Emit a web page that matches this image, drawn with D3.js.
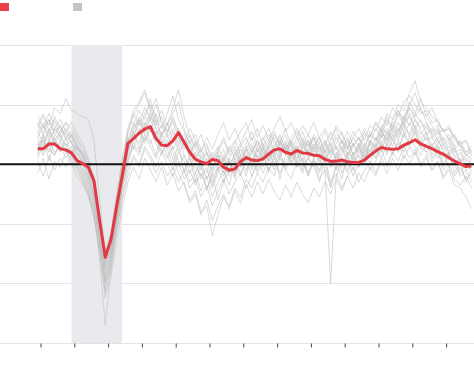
<!DOCTYPE html>
<html>
<head>
<meta charset="utf-8">
<script src="https://cdn.jsdelivr.net/npm/d3@7"></script>
<style>
  html, body { margin: 0; padding: 0; background: #fff; }
  svg { display: block; }
</style>
</head>
<body>
<svg id="chart" width="474" height="369"></svg>
<script>
// ---- DATA ----
const startYear = 2006 + 11/12;   // Dec 2006
const stepYears = 2/12;           // bimonthly samples
const recession = [2007 + 11/12, 2009 + 5/12];
const yTicks = [2, 1, 0, -1, -2, -3];
const xTickYears = [2007,2008,2009,2010,2011,2012,2013,2014,2015,2016,2017,2018,2019];

const mainSeries = [0.26,0.26,0.34,0.34,0.26,0.24,0.19,0.06,0.01,-0.05,
  -0.28,-0.95,-1.56,-1.27,-0.72,-0.2,0.35,0.43,0.52,0.59,
  0.63,0.43,0.32,0.31,0.39,0.53,0.37,0.2,0.08,0.04,
  0.01,0.08,0.06,-0.05,-0.10,-0.08,0.04,0.11,0.07,0.06,
  0.09,0.17,0.24,0.26,0.20,0.17,0.23,0.19,0.18,0.15,
  0.14,0.08,0.05,0.05,0.07,0.04,0.03,0.03,0.07,0.15,
  0.22,0.28,0.26,0.25,0.26,0.32,0.36,0.41,0.34,0.30,
  0.26,0.21,0.17,0.11,0.05,0.01,-0.04,-0.03];

const g1 = [0.55,0.70,0.45,0.80,0.60,0.50,0.35,0.20,0.05,-0.20,
  -0.55,-1.30,-1.90,-1.55,-0.90,-0.30,0.40,0.65,0.90,0.75,
  1.10,0.70,0.50,0.65,0.85,1.05,0.60,0.30,0.10,0.25,
  0.05,-0.10,0.20,-0.05,0.10,-0.20,0.30,0.45,0.20,0.40,
  0.15,0.35,0.55,0.30,0.50,0.20,0.45,0.25,0.40,0.10,
  0.30,0.05,0.25,0.10,0.40,0.15,0.35,0.20,0.50,0.45,
  0.70,0.55,0.85,0.75,1.00,0.90,1.20,1.40,1.05,0.95,
  0.80,0.70,0.55,0.60,0.40,0.30,0.20,0.25];
const g2 = [0.30,0.45,0.20,0.50,0.40,0.55,0.45,0.30,0.20,-0.10,
  -0.40,-1.10,-1.75,-1.40,-0.80,-0.25,0.20,0.50,0.35,0.70,
  0.55,0.85,0.40,0.30,0.55,0.20,0.35,0.10,-0.15,0.05,
  -0.25,-0.05,0.15,-0.20,0.05,-0.15,0.10,0.25,-0.05,0.20,
  0.35,0.10,0.30,0.45,0.15,0.35,0.05,0.30,0.20,0.45,
  0.15,0.35,0.10,0.30,-0.05,0.20,0.10,0.35,0.25,0.55,
  0.40,0.60,0.35,0.65,0.50,0.80,0.95,0.75,0.60,0.70,
  0.50,0.35,0.45,0.20,0.30,0.05,0.15,0.10];
const g3 = [0.10,0.35,0.25,0.15,0.40,0.20,0.30,0.10,-0.15,-0.40,
  -0.80,-1.60,-2.70,-1.80,-1.00,-0.45,0.05,0.30,0.15,0.45,
  0.30,0.10,0.40,0.15,-0.10,0.20,0.05,-0.30,-0.15,-0.45,
  -0.20,-0.55,-0.30,-0.10,-0.35,0.05,-0.20,0.10,-0.10,0.15,
  -0.05,0.20,0.00,0.25,-0.10,0.15,0.30,0.05,-0.15,0.10,
  -0.10,0.15,-0.05,0.20,-0.15,0.10,-0.20,0.05,0.20,0.00,
  0.30,0.10,0.35,0.15,0.40,0.20,0.45,0.30,0.15,0.35,
  0.10,0.25,-0.05,0.15,0.00,-0.20,-0.10,-0.30];
const g4 = [0.60,0.80,0.65,0.95,0.85,1.10,0.90,0.85,0.80,0.75,
  0.40,-0.60,-1.50,-1.20,-0.60,-0.05,0.55,0.80,1.00,1.20,
  0.90,0.65,0.80,0.55,0.70,0.45,0.25,0.40,0.15,0.00,
  0.20,-0.15,0.05,0.25,0.00,0.15,0.35,0.10,0.30,0.05,
  0.25,0.40,0.15,0.35,0.60,0.30,0.10,0.35,0.15,0.30,
  0.45,0.20,0.35,0.05,0.25,0.45,0.15,0.30,0.10,0.35,
  0.25,0.45,0.60,0.40,0.70,0.55,0.85,0.60,0.75,0.50,
  0.60,0.40,0.25,0.35,0.15,0.05,-0.05,0.10];
const g5 = [-0.15,0.10,-0.25,0.05,-0.05,0.20,0.00,-0.20,-0.35,-0.50,
  -0.90,-1.40,-2.00,-1.75,-1.10,-0.60,-0.20,0.10,-0.05,0.25,
  0.10,-0.15,0.05,-0.20,-0.05,-0.30,-0.10,-0.40,-0.25,-0.55,
  -0.35,-0.70,-0.45,-0.25,-0.50,-0.30,-0.15,-0.40,-0.20,0.05,
  -0.15,0.10,-0.10,0.15,-0.05,0.20,0.05,-0.10,0.15,-0.05,
  0.10,-0.10,-2.00,-0.20,0.05,-0.15,0.10,-0.05,0.15,-0.10,
  0.05,0.25,0.00,0.20,0.35,0.10,0.30,0.15,0.40,0.20,
  0.05,0.20,-0.10,0.00,-0.20,-0.05,-0.25,-0.15];
const g6 = [0.45,0.30,0.55,0.35,0.50,0.30,0.40,0.15,0.05,-0.25,
  -0.65,-1.25,-2.10,-1.60,-0.85,-0.15,0.30,0.60,0.75,0.50,
  0.80,0.60,0.35,0.50,0.25,0.45,0.15,-0.05,0.20,-0.10,
  0.10,-0.30,-0.05,0.15,-0.15,0.10,-0.05,0.20,0.35,0.10,
  0.30,0.05,0.25,0.10,0.35,0.00,0.20,0.40,0.15,0.30,
  0.05,0.25,-0.05,0.15,0.30,0.00,0.20,-0.05,0.25,0.10,
  0.35,0.20,0.50,0.30,0.55,0.70,0.45,0.65,0.40,0.55,
  0.30,0.45,0.20,0.30,0.10,0.20,-0.05,0.05];
const g7 = [0.20,0.40,0.30,0.45,0.25,0.35,0.10,0.00,-0.20,-0.45,
  -0.75,-1.35,-1.95,-1.45,-0.75,-0.10,0.45,0.25,0.60,0.40,
  0.65,0.45,0.20,0.35,0.10,-0.15,-0.35,-0.60,-0.45,-0.80,
  -0.70,-1.20,-0.85,-0.55,-0.70,-0.40,-0.55,-0.25,-0.40,-0.15,
  -0.30,-0.05,-0.20,0.10,-0.10,-0.25,0.05,-0.15,0.10,-0.05,
  -0.25,-0.10,-0.35,-0.15,-0.40,-0.20,-0.05,-0.30,-0.10,0.05,
  -0.15,0.10,-0.05,0.20,0.05,0.30,0.10,0.25,0.00,0.15,
  -0.10,0.05,-0.25,-0.10,-0.35,-0.40,-0.55,-0.75];
const g8 = [0.70,0.50,0.75,0.55,0.65,0.45,0.55,0.40,0.30,0.10,
  -0.30,-1.00,-1.65,-1.30,-0.70,-0.20,0.35,0.70,0.50,0.85,
  1.00,0.80,0.60,0.85,1.15,0.75,0.55,0.35,0.50,0.25,
  0.35,0.10,0.30,0.05,0.25,0.40,0.15,0.35,0.55,0.30,
  0.45,0.25,0.50,0.35,0.25,0.45,0.60,0.40,0.30,0.50,
  0.35,0.55,0.30,0.50,0.40,0.25,0.45,0.60,0.40,0.65,
  0.55,0.80,0.65,0.95,0.80,1.05,1.15,1.00,0.85,0.90,
  0.70,0.75,0.55,0.60,0.45,0.35,0.40,0.20];
const g9 = [0.35,0.15,0.40,0.20,0.30,0.10,0.25,0.05,-0.10,-0.30,
  -0.50,-1.20,-1.80,-1.50,-0.95,-0.35,0.10,0.35,0.20,0.50,
  0.35,0.55,0.25,0.10,0.30,0.05,-0.10,0.15,-0.05,-0.20,
  -0.05,-0.40,-0.15,0.05,-0.20,-0.05,0.15,-0.10,0.10,-0.15,
  0.05,0.25,-0.05,0.15,0.30,0.05,0.20,-0.05,0.10,0.25,
  0.00,0.20,0.05,-0.10,0.15,0.30,0.05,0.15,0.35,0.20,
  0.45,0.30,0.55,0.40,0.60,0.45,0.70,0.50,0.35,0.45,
  0.25,0.30,0.10,0.20,0.00,0.10,-0.10,-0.05];
const g10 = [0.50,0.65,0.40,0.60,0.75,0.55,0.70,0.50,0.35,0.05,
  -0.45,-1.15,-1.70,-1.35,-0.65,0.10,0.60,0.90,1.05,1.25,
  0.95,0.70,0.90,0.65,0.95,1.25,0.80,0.45,0.30,0.50,
  0.20,0.05,0.25,0.45,0.20,0.35,0.55,0.70,0.40,0.60,
  0.30,0.50,0.20,0.40,0.15,0.35,0.55,0.30,0.50,0.25,
  0.45,0.20,0.40,0.60,0.35,0.55,0.30,0.45,0.20,0.40,
  0.30,0.55,0.40,0.75,0.90,0.70,1.00,1.20,0.90,0.80,
  0.65,0.50,0.60,0.40,0.50,0.30,0.15,0.25];
const g11 = [0.40,0.20,0.30,0.15,0.35,0.25,0.05,-0.10,-0.30,-0.55,
  -0.90,-1.45,-2.25,-1.70,-1.15,-0.55,-0.10,0.15,0.00,0.30,
  0.15,-0.05,0.20,0.00,-0.20,0.05,-0.25,-0.10,-0.35,-0.15,
  -0.40,-0.20,-0.05,-0.30,-0.10,0.10,-0.15,0.05,-0.20,0.00,
  0.15,-0.10,0.10,-0.15,0.05,0.20,-0.05,0.10,-0.20,0.05,
  -0.15,0.10,-0.30,-0.05,0.10,-0.10,0.15,-0.05,0.10,0.25,
  0.10,0.35,0.20,0.40,0.25,0.50,0.35,0.55,0.30,0.20,
  0.35,0.10,0.20,-0.05,0.10,-0.15,0.00,-0.10];
const g12 = [0.80,0.60,0.85,0.65,0.45,0.60,0.35,0.25,0.15,-0.05,
  -0.35,-0.85,-1.45,-1.15,-0.55,-0.10,0.25,0.55,0.80,0.65,
  0.90,1.10,0.70,0.55,0.75,0.50,0.30,0.50,0.25,0.10,
  0.30,0.05,0.20,0.40,0.15,0.30,0.05,0.25,0.45,0.20,
  0.40,0.60,0.35,0.20,0.40,0.15,0.35,0.55,0.30,0.45,
  0.20,0.40,0.15,0.35,0.55,0.25,0.45,0.30,0.55,0.35,
  0.60,0.45,0.75,0.55,0.85,0.65,0.95,0.80,0.95,0.70,
  0.55,0.65,0.40,0.50,0.30,0.40,0.20,0.30];
const g13 = [0.25,0.50,0.35,0.60,0.45,0.30,0.50,0.35,0.10,-0.15,
  -0.60,-1.25,-1.85,-1.60,-1.00,-0.40,0.00,0.40,0.55,0.35,
  0.60,0.35,0.15,0.40,0.20,-0.05,0.15,-0.15,0.05,-0.25,
  -0.10,-0.35,-0.10,0.10,-0.10,0.20,0.00,0.30,0.05,0.25,
  0.10,0.30,0.45,0.15,0.35,0.10,0.30,0.15,0.40,0.20,
  0.35,0.10,0.30,0.05,0.20,0.40,0.15,0.35,0.10,0.40,
  0.25,0.50,0.30,0.55,0.40,0.65,0.50,0.75,0.55,0.40,
  0.45,0.25,0.35,0.15,0.25,0.05,0.10,0.00];
const g14 = [0.55,0.35,0.60,0.40,0.55,0.70,0.60,0.45,0.20,0.00,
  -0.35,-1.00,-1.60,-1.25,-0.75,-0.20,0.25,0.45,0.70,0.55,
  0.75,0.50,0.65,0.45,0.60,0.35,0.50,0.20,0.40,0.15,
  0.00,0.20,-0.10,0.10,0.30,0.10,0.25,0.05,0.20,0.40,
  0.20,0.05,0.30,0.50,0.25,0.40,0.20,0.05,0.25,0.45,
  0.25,0.40,0.20,0.45,0.25,0.10,0.30,0.45,0.30,0.50,
  0.40,0.65,0.50,0.70,0.55,0.80,0.65,0.85,0.70,0.60,
  0.50,0.60,0.35,0.45,0.25,0.35,0.15,0.20];
const g15 = [0.05,-0.20,0.15,-0.10,0.10,-0.05,0.15,-0.05,-0.25,-0.50,
  -0.85,-1.50,-2.15,-1.90,-1.30,-0.75,-0.30,-0.05,-0.25,0.10,
  -0.10,-0.30,-0.05,-0.35,-0.15,-0.45,-0.30,-0.65,-0.50,-0.85,
  -0.60,-0.95,-0.70,-0.50,-0.75,-0.45,-0.65,-0.35,-0.55,-0.30,
  -0.50,-0.25,-0.45,-0.60,-0.35,-0.55,-0.30,-0.50,-0.65,-0.40,
  -0.55,-0.30,-0.50,-0.25,-0.45,-0.20,-0.40,-0.15,-0.30,-0.05,
  -0.20,0.05,-0.15,0.10,-0.10,0.15,0.00,0.20,-0.05,0.10,
  -0.10,0.05,-0.20,-0.05,-0.25,-0.35,-0.20,-0.40];
const g16 = [0.65,0.85,0.55,0.75,0.50,0.70,0.45,0.30,0.15,-0.10,
  -0.50,-1.05,-1.55,-1.20,-0.50,0.05,0.50,0.85,0.65,0.95,
  0.75,1.00,0.70,0.50,0.80,0.55,0.35,0.60,0.40,0.20,
  0.45,0.25,0.50,0.70,0.40,0.60,0.35,0.55,0.75,0.45,
  0.65,0.40,0.60,0.80,0.55,0.70,0.45,0.65,0.50,0.70,
  0.45,0.60,0.40,0.65,0.50,0.30,0.55,0.40,0.60,0.45,
  0.70,0.55,0.80,0.60,0.90,0.75,1.05,0.85,1.10,0.80,
  0.95,0.70,0.55,0.65,0.45,0.30,0.40,0.15];
const g17 = [0.15,0.50,0.05,0.40,0.20,0.45,0.15,0.30,0.00,-0.35,
  -0.70,-1.30,-2.00,-1.65,-0.90,-0.35,0.15,0.55,0.25,0.65,
  0.40,0.15,0.55,0.25,0.00,0.35,-0.15,0.10,-0.30,0.00,
  -0.45,-0.15,-0.60,-0.30,0.05,-0.25,0.10,-0.20,0.25,-0.10,
  0.30,-0.15,0.20,-0.25,0.15,0.40,-0.05,0.25,-0.20,0.10,
  -0.30,0.05,-0.40,0.00,-0.25,0.15,-0.10,0.30,0.00,0.35,
  0.10,0.40,0.15,0.50,0.20,0.55,0.30,0.60,0.25,0.50,
  0.15,0.35,0.00,0.20,-0.15,0.05,-0.30,-0.10];
const g18 = [0.45,0.60,0.75,0.50,0.65,0.40,0.50,0.25,0.20,0.05,
  -0.20,-0.90,-1.70,-1.45,-0.85,-0.25,0.20,0.45,0.75,0.60,
  0.85,0.60,0.45,0.70,0.40,0.60,0.35,0.15,0.35,0.05,
  0.20,-0.05,0.15,-0.15,0.10,0.25,-0.05,0.15,0.00,0.30,
  0.05,0.30,0.10,0.40,0.20,0.00,0.25,0.45,0.20,0.35,
  0.10,0.30,0.55,0.25,0.40,0.15,0.35,0.10,0.30,0.15,
  0.35,0.55,0.40,0.60,0.45,0.70,0.80,0.60,0.50,0.65,
  0.45,0.55,0.30,0.40,0.20,0.25,0.05,0.15];
const greySeries = [g1,g2,g3,g4,g5,g6,g7,g8,g9,g10,g11,g12,g13,g14,g15,g16,g17,g18];

// ---- CHART ----
const W = 474, H = 369;
const svg = d3.select("#chart");
const plotTop = 45, plotBottom = 343;

const x = d3.scaleLinear().domain([2005.802, 2019.825]).range([0, W]);
const y = d3.scaleLinear().domain([-3, 2]).range([plotBottom, plotTop]);

// legend
svg.append("rect").attr("x", 0).attr("y", 3).attr("width", 9).attr("height", 8).attr("fill", "#e8414b");
svg.append("rect").attr("x", 73).attr("y", 3).attr("width", 9).attr("height", 8).attr("fill", "#c4c4c4");

// gridlines
svg.append("g").selectAll("line").data(yTicks.filter(d => d !== 0)).join("line")
  .attr("x1", 0).attr("x2", W)
  .attr("y1", d => Math.round(y(d)) + 0.5).attr("y2", d => Math.round(y(d)) + 0.5)
  .attr("stroke", "#e3e3e3").attr("stroke-width", 1);

// recession shading
svg.append("rect")
  .attr("x", x(recession[0])).attr("width", x(recession[1]) - x(recession[0]))
  .attr("y", plotTop).attr("height", plotBottom - plotTop)
  .attr("fill", "#e9eaed");

// x axis ticks
const xAxis = d3.axisBottom(x).tickValues(xTickYears).tickSize(4).tickFormat("");
const gx = svg.append("g").attr("transform", `translate(0,${Math.round(y(-3)) + 0.5})`).call(xAxis);
gx.select(".domain").remove();
gx.selectAll(".tick line").attr("stroke", "#444");

const line = d3.line()
  .x((d, i) => x(startYear + i * stepYears))
  .y(d => y(d));

// grey series
svg.append("g").selectAll("path").data(greySeries).join("path")
  .attr("d", line)
  .attr("fill", "none")
  .attr("stroke", "#bdbdbd")
  .attr("stroke-opacity", 0.7)
  .attr("stroke-width", 0.8)
  .attr("stroke-linejoin", "round");

// zero line
svg.append("line")
  .attr("x1", 0).attr("x2", W)
  .attr("y1", y(0)).attr("y2", y(0))
  .attr("stroke", "#111").attr("stroke-width", 2);

// main series
svg.append("path").datum(mainSeries)
  .attr("d", line)
  .attr("fill", "none")
  .attr("stroke", "#e23a44")
  .attr("stroke-width", 3)
  .attr("stroke-linejoin", "round");
</script>
</body>
</html>
